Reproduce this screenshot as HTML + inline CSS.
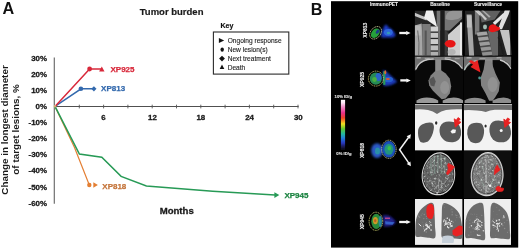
<!DOCTYPE html>
<html><head><meta charset="utf-8"><style>
html,body{margin:0;padding:0;background:#fff;width:520px;height:249px;overflow:hidden}
svg{display:block;filter:blur(0.3px)}
text{font-family:"Liberation Sans",Arial,sans-serif}
.b{font-weight:bold}
</style></head><body>
<svg width="520" height="249" viewBox="0 0 520 249">
<defs>
  <filter id="bl1" x="-20%" y="-20%" width="140%" height="140%"><feGaussianBlur stdDeviation="0.6"/></filter>
  <filter id="bl2" x="-30%" y="-30%" width="160%" height="160%"><feGaussianBlur stdDeviation="1"/></filter>
  <linearGradient id="cbar" x1="0" y1="0" x2="0" y2="1">
    <stop offset="0" stop-color="#ffffff"/>
    <stop offset="0.06" stop-color="#fbe6f4"/>
    <stop offset="0.14" stop-color="#f090c8"/>
    <stop offset="0.26" stop-color="#e8308a"/>
    <stop offset="0.36" stop-color="#f04028"/>
    <stop offset="0.42" stop-color="#f89020"/>
    <stop offset="0.48" stop-color="#f0e020"/>
    <stop offset="0.58" stop-color="#60c830"/>
    <stop offset="0.68" stop-color="#20b8a0"/>
    <stop offset="0.76" stop-color="#2080d8"/>
    <stop offset="0.86" stop-color="#2838c0"/>
    <stop offset="0.94" stop-color="#181848"/>
    <stop offset="1" stop-color="#080810"/>
  </linearGradient>
</defs>

<!-- ============ PANEL A ============ -->
<text x="2.6" y="14.3" font-size="16.2" class="b" fill="#111">A</text>
<text x="171.6" y="15.1" font-size="9.5" class="b" fill="#1a1a1a" stroke="#1a1a1a" stroke-width="0.2" text-anchor="middle">Tumor burden</text>
<text x="220.4" y="28" font-size="7.1" class="b" fill="#111" stroke="#111" stroke-width="0.15">Key</text>
<rect x="213.4" y="32" width="75.4" height="42.1" fill="none" stroke="#2a2a2a" stroke-width="1.1"/>
<!-- legend symbols -->
<polygon points="218.9,37.9 224.2,40.4 218.9,42.9" fill="#111"/>
<ellipse cx="222.2" cy="49.6" rx="1.7" ry="2.2" fill="#111"/>
<polygon points="219.1,58.6 222,55.7 224.9,58.6 222,61.5" fill="#111"/>
<polygon points="222,64.5 224.3,69.1 219.7,69.1" fill="#111"/>
<g font-size="6.6" fill="#1e1e1e" stroke="#1e1e1e" stroke-width="0.12">
  <text x="227.7" y="42.9">Ongoing response</text>
  <text x="227.7" y="52.3">New lesion(s)</text>
  <text x="227.7" y="61.1">Next treatment</text>
  <text x="227.7" y="70.1">Death</text>
</g>

<!-- y axis title -->
<g class="b" font-size="9.9" fill="#1a1a1a" text-anchor="middle">
  <text transform="translate(8.2,130) rotate(-90)">Change in longest diameter</text>
  <text transform="translate(18.8,129.4) rotate(-90)">of target lesions, %</text>
</g>
<!-- y tick labels -->
<g class="b" font-size="7.9" fill="#1a1a1a" stroke="#1a1a1a" stroke-width="0.3" text-anchor="end">
  <text x="47" y="60.7">30%</text>
  <text x="47" y="76.8">20%</text>
  <text x="47" y="92.9">10%</text>
  <text x="47" y="109">0%</text>
  <text x="47" y="125.1">-10%</text>
  <text x="47" y="141.2">-20%</text>
  <text x="47" y="157.3">-30%</text>
  <text x="47" y="173.4">-40%</text>
  <text x="47" y="189.5">-50%</text>
  <text x="47" y="205.6">-60%</text>
</g>
<!-- axes -->
<line x1="54.3" y1="57.6" x2="54.3" y2="203.8" stroke="#6a6a6a" stroke-width="1.15"/>
<line x1="54.3" y1="106.5" x2="298.6" y2="106.5" stroke="#505050" stroke-width="1.1"/>
<g stroke="#555" stroke-width="0.9">
  <line x1="79.3" y1="104.7" x2="79.3" y2="108.4"/>
  <line x1="103.6" y1="104.7" x2="103.6" y2="108.4"/>
  <line x1="127.9" y1="104.7" x2="127.9" y2="108.4"/>
  <line x1="152.2" y1="104.7" x2="152.2" y2="108.4"/>
  <line x1="176.5" y1="104.7" x2="176.5" y2="108.4"/>
  <line x1="200.8" y1="104.7" x2="200.8" y2="108.4"/>
  <line x1="225.1" y1="104.7" x2="225.1" y2="108.4"/>
  <line x1="249.4" y1="104.7" x2="249.4" y2="108.4"/>
  <line x1="273.7" y1="104.7" x2="273.7" y2="108.4"/>
  <line x1="298" y1="104.7" x2="298" y2="108.4"/>
</g>
<g class="b" font-size="7.9" fill="#1a1a1a" stroke="#1a1a1a" stroke-width="0.3" text-anchor="middle">
  <text x="103.4" y="120">6</text>
  <text x="152.4" y="120">12</text>
  <text x="200.8" y="120">18</text>
  <text x="249.6" y="120">24</text>
  <text x="298.3" y="120">30</text>
</g>
<text x="176.7" y="213.7" font-size="9.6" class="b" fill="#1a1a1a" stroke="#1a1a1a" stroke-width="0.3" text-anchor="middle">Months</text>

<!-- data lines -->
<polyline points="55,106.4 74.5,147.5 89.3,185" fill="none" stroke="#e47f33" stroke-width="1.2"/>
<circle cx="89.3" cy="185" r="2.2" fill="#e47f33"/>
<polygon points="93.3,182.3 97.9,185 93.3,187.7" fill="#e47f33"/>
<polyline points="55,106.4 79.4,154 101.8,157.3 121.1,176.4 146.4,185.9 212.7,191.2 275,195" fill="none" stroke="#279a56" stroke-width="1.5"/>
<polygon points="274.4,192.2 279.3,195.1 274.4,198" fill="#279a56"/>
<polyline points="55,106.4 81.1,88.8 93.9,88.8" fill="none" stroke="#3369ad" stroke-width="1.4"/>
<circle cx="80.9" cy="88.8" r="2.3" fill="#3369ad"/>
<polygon points="91.3,88.8 93.9,86.2 96.5,88.8 93.9,91.4" fill="#3369ad"/>
<polyline points="55,106.4 89.6,69 101.8,69" fill="none" stroke="#d8283a" stroke-width="1.5"/>
<circle cx="89.6" cy="69" r="2.4" fill="#d8283a"/>
<polygon points="101.8,66.4 104.5,71.4 99.1,71.4" fill="#d8283a"/>
<circle cx="55" cy="106.3" r="1.3" fill="#f4d080" opacity="0.7"/>
<g class="b" font-size="8.0" stroke-width="0.25">
  <text x="110.5" y="72.1" fill="#d8283a" stroke="#d8283a">XP925</text>
  <text x="101.1" y="91.4" fill="#3369ad" stroke="#3369ad">XP813</text>
  <text x="102.3" y="189.1" fill="#c4743a" stroke="#c4743a">XP818</text>
  <text x="284.4" y="197.7" fill="#1d8442" stroke="#1d8442">XP945</text>
</g>

<!-- ============ PANEL B ============ -->
<text x="310.8" y="14.8" font-size="16.2" class="b" fill="#111">B</text>
<rect x="331" y="1.2" width="187.2" height="246.4" fill="#000"/>

<g class="b" font-size="4.8" fill="#f2f2f2" stroke="#f2f2f2" stroke-width="0.1" text-anchor="middle">
  <text x="384" y="6.4">ImmunoPET</text>
  <text x="440" y="6.4">Baseline</text>
  <text x="488.1" y="6.4">Surveillance</text>
</g>

<!-- rotated row labels -->
<g class="b" font-size="5" fill="#f0f0f0" stroke="#f0f0f0" stroke-width="0.12" text-anchor="middle">
  <text transform="translate(366.8,30.2) rotate(-90)">XP813</text>
  <text transform="translate(363.8,79.4) rotate(-90)">XP925</text>
  <text transform="translate(363.8,150.5) rotate(-90)">XP818</text>
  <text transform="translate(363.8,221.7) rotate(-90)">XP945</text>
</g>

<!-- colour bar -->
<text x="343.3" y="98.3" font-size="4.2" class="b" fill="#e8e8e8" stroke="#e8e8e8" stroke-width="0.08" text-anchor="middle">10% ID/g</text>
<rect x="340.9" y="99.8" width="4.2" height="50.2" fill="url(#cbar)" filter="url(#sf2)"/>
<text x="343.9" y="155.1" font-size="4.2" class="b" fill="#e8e8e8" stroke="#e8e8e8" stroke-width="0.08" text-anchor="middle">0% ID/g</text>

<!-- PET blobs -->
<!-- PET 1 (XP813) -->
<g filter="url(#bl2)">
  <path d="M381.5,37.5 Q380.5,31 383.5,28.5 Q384,25 386,24.8 Q388,25 388.3,27.5 Q393,28.5 395.6,35 Q395,37.6 390,37.6 Z" fill="#1e3ac4"/>
</g>
<g filter="url(#bl1)">
  <ellipse cx="388.3" cy="32.3" rx="4.4" ry="3.4" fill="#2f68dc"/>
  <ellipse cx="388.5" cy="33" rx="1.8" ry="1.3" fill="#3698b8"/>
  <ellipse cx="375.4" cy="33.2" rx="5.4" ry="3.7" transform="rotate(-50 375.4 33.2)" fill="#26a03a"/>
  <ellipse cx="377.6" cy="31.6" rx="2.4" ry="1.5" transform="rotate(-50 377.6 31.6)" fill="#1a3a88"/>
</g>
<ellipse cx="375.6" cy="32.8" rx="7" ry="5" fill="none" stroke="#eef0b0" stroke-width="0.8" stroke-dasharray="1.1 0.7" transform="rotate(-50 375.6 32.8)"/>

<!-- PET 2 (XP925) -->
<g filter="url(#bl2)">
  <path d="M382.7,70.3 Q386,70 388,73 L397.3,81.7 Q392,86 383.7,85.9 Z" fill="#1a3ab8"/>
</g>
<g filter="url(#bl1)">
  <ellipse cx="388.5" cy="79.5" rx="4.5" ry="2.8" fill="#2860d0"/>
  <rect x="383.2" y="71.3" width="2.2" height="13.5" fill="#2a9a58"/>
  <ellipse cx="385.3" cy="72.3" rx="1" ry="2" fill="#d86a30"/>
  <ellipse cx="387.9" cy="79.1" rx="2" ry="1" fill="#d85530"/>
  <circle cx="375.9" cy="78.6" r="6.1" fill="#268a55"/>
  <ellipse cx="378.5" cy="77" rx="3" ry="4" fill="#2a64c8"/>
  <circle cx="374.5" cy="79.5" r="2.4" fill="#48b040"/>
</g>
<circle cx="375.9" cy="78.6" r="7.5" fill="none" stroke="#e2e07a" stroke-width="0.8" stroke-dasharray="1.1 0.7"/>

<!-- PET 3 (XP818) -->
<g filter="url(#bl2)">
  <ellipse cx="377" cy="150.6" rx="5.8" ry="7.4" fill="#2a58c4"/>
</g>
<g filter="url(#bl1)">
  <ellipse cx="377.5" cy="151" rx="2.5" ry="3.5" fill="#2a90a8"/>
  <ellipse cx="388.9" cy="149.3" rx="6.6" ry="8.3" fill="#1c50b8"/>
  <ellipse cx="388.9" cy="149.3" rx="4.5" ry="5.5" fill="#209480"/>
  <ellipse cx="389.3" cy="148.3" rx="1.8" ry="2.2" fill="#38c048"/>
</g>
<ellipse cx="388.9" cy="149.3" rx="7.3" ry="9.1" fill="none" stroke="#e6e6a8" stroke-width="0.8" stroke-dasharray="1.1 0.7"/>

<!-- PET 4 (XP945) -->
<g filter="url(#bl2)">
  <path d="M382.7,215.5 Q390,213.5 396,222 Q394,226.8 384,226.8 Z" fill="#22208a"/>
</g>
<g filter="url(#bl1)">
  <rect x="385" y="217.6" width="5" height="1.3" fill="#c04888"/>
  <path d="M385,221.2 L394.5,222.3 L392.5,224.8 L385.5,224.3 Z" fill="#3560c8"/>
  <ellipse cx="376.3" cy="221.3" rx="5" ry="7.6" fill="#2a8a3a"/>
  <ellipse cx="380.3" cy="221.5" rx="1.6" ry="5.5" fill="#2a8a9a"/>
  <ellipse cx="375.4" cy="220.6" rx="2.5" ry="3.6" fill="#c89a28"/>
  <ellipse cx="375.2" cy="220.6" rx="1.1" ry="1.7" fill="#c05a20"/>
</g>
<ellipse cx="375.9" cy="221.3" rx="6.8" ry="9.1" fill="none" stroke="#e6e87a" stroke-width="0.8" stroke-dasharray="1.1 0.7"/>

<!-- white arrows -->
<g stroke="#f4f4f4" fill="#f4f4f4" filter="url(#sf2)">
<line x1="399.3" y1="33.0" x2="406.7" y2="33.0" stroke-width="2.3"/><polygon points="410.6,33.0 406.2,35.0 406.2,31.0" stroke="none"/>
<line x1="400.3" y1="80.4" x2="406.9" y2="80.4" stroke-width="2.3"/><polygon points="410.8,80.4 406.4,82.4 406.4,78.4" stroke="none"/>
<line x1="399.2" y1="222.0" x2="406.9" y2="222.0" stroke-width="2.3"/><polygon points="410.8,222.0 406.4,224.0 406.4,220.0" stroke="none"/>
<line x1="399.6" y1="149.7" x2="408.7" y2="137.2" stroke-width="1.5"/><polygon points="410.9,134.2 410.2,138.9 406.6,136.3" stroke="none"/>
<line x1="399.6" y1="149.7" x2="408.8" y2="163.2" stroke-width="1.5"/><polygon points="410.9,166.3 406.7,164.1 410.4,161.6" stroke="none"/>
<circle cx="399.5" cy="149.7" r="0.75" stroke="none"/>
</g>

<!-- ===== medical images ===== -->
<defs>
  <clipPath id="c11"><rect x="0" y="0" width="48.5" height="45.3"/></clipPath>
  <clipPath id="c12"><rect x="0" y="0" width="46.6" height="45.3"/></clipPath>
  <clipPath id="c21"><rect x="0" y="0" width="48.6" height="46.5"/></clipPath>
  <clipPath id="c22"><rect x="0" y="0" width="47.7" height="46.5"/></clipPath>
  <clipPath id="c31"><rect x="0" y="0" width="47" height="46.7"/></clipPath>
  <clipPath id="c32"><rect x="0" y="0" width="48.3" height="46.7"/></clipPath>
  <clipPath id="c51"><rect x="0" y="0" width="47.7" height="45.9"/></clipPath>
  <clipPath id="c52"><rect x="0" y="0" width="47.1" height="45.9"/></clipPath>
  <filter id="sf" x="-10%" y="-10%" width="120%" height="120%"><feGaussianBlur stdDeviation="0.7"/></filter>
  <filter id="nzD" x="0" y="0" width="100%" height="100%"><feTurbulence type="fractalNoise" baseFrequency="0.42" numOctaves="2" seed="3"/><feColorMatrix type="matrix" values="0 0 0 0 0.15  0 0 0 0 0.15  0 0 0 0 0.15  3 0 0 0 -1.3"/><feGaussianBlur stdDeviation="0.35"/></filter>
  <filter id="nzL" x="0" y="0" width="100%" height="100%"><feTurbulence type="fractalNoise" baseFrequency="0.45" numOctaves="2" seed="11"/><feColorMatrix type="matrix" values="0 0 0 0 0.66  0 0 0 0 0.7  0 0 0 0 0.68  0 2.6 0 0 -1.35"/><feGaussianBlur stdDeviation="0.35"/></filter>
  <filter id="sf2" x="-10%" y="-10%" width="120%" height="120%"><feGaussianBlur stdDeviation="0.45"/></filter>
</defs>

<!-- Row 1 left: sagittal neck MRI (baseline) -->
<g transform="translate(414.7,10.5)" clip-path="url(#c11)">
  <rect width="48.5" height="45.3" fill="#262626"/>
  <g filter="url(#sf)">
    <rect x="22" y="0" width="26.5" height="20" fill="#747474"/>
    <path d="M31,8.5 Q30.5,1 38,0 L47.3,0 L47.3,6 Q44,9 38,9.5 Q33,9.8 31,8.5 Z" fill="#959595"/>
    <polygon points="0,2.2 11.5,7 11.8,10 0,5.4" fill="#c4c4c4"/>
    <polygon points="11.8,-1 18,-1 22.4,16.5 9.3,7.5" fill="#efefef"/>
    <polygon points="0,15 7,13 8.5,45.3 0,45.3" fill="#a6a6a6"/>
    <rect x="0.5" y="15" width="5.5" height="10" fill="#b8b8b8"/>
    <path d="M3,20 Q5,32 4,45" stroke="#6a6a6a" stroke-width="1" fill="none"/>
    <rect x="7.5" y="13.5" width="8.4" height="31.8" fill="#7a7a7a"/>
    <rect x="10" y="20" width="2" height="25" fill="#555"/>
    <rect x="15.9" y="16" width="7.6" height="5" fill="#d2d2d2"/>
    <rect x="15.9" y="22.3" width="7.6" height="5" fill="#c6c6c6"/>
    <rect x="15.9" y="28.6" width="7.6" height="5" fill="#cdcdcd"/>
    <rect x="15.9" y="34.9" width="7.6" height="5" fill="#bebebe"/>
    <rect x="15.9" y="41.2" width="7.6" height="4.1" fill="#b0b0b0"/>
    <rect x="23.5" y="14" width="2.1" height="31.3" fill="#707070"/>
    <rect x="25.6" y="0" width="4.4" height="45.3" fill="#1c1c1c"/>
    <polygon points="30,19.5 33.5,22 33.3,45.3 30,45.3" fill="#3a3a3a"/>
    <polygon points="48.3,10.5 34.3,23 33.3,24.5 33.3,45.3 48.3,45.3" fill="#cecece"/>
    <polygon points="48.5,8.3 47.5,8.3 32.8,22 34.3,23.2 48.5,10.6" fill="#1a1a1a"/>
    <rect x="45.3" y="12" width="1.8" height="33" fill="#ececec"/>
    <ellipse cx="37" cy="41.5" rx="4" ry="3" fill="#b4b4b4"/>
    <path d="M29.8,33.3 Q31,29.3 35.5,29.5 Q40.5,29.8 41,33.3 Q40.5,36.8 35.5,37 Q31,37 29.8,33.3 Z" fill="#e81818"/>
  </g>
  <rect x="47.4" y="0" width="1.1" height="45.3" fill="#111"/>
</g>

<!-- Row 1 right: sagittal neck MRI (surveillance) -->
<g transform="translate(464.6,10.5)" clip-path="url(#c12)">
  <rect width="46.6" height="45.3" fill="#232323"/>
  <g filter="url(#sf)">
    <polygon points="1.9,3.9 7,3.9 9.5,45.3 4.5,45.3" fill="#a6a6a6"/>
    <rect x="2.3" y="5" width="4.6" height="12" fill="#bebebe"/>
    <rect x="10.3" y="0" width="4.5" height="24" fill="#7a7a7a"/>
    <polygon points="9,-1 11,-1 17.5,5 16,6" fill="#cfcfcf"/>
    <polygon points="14.8,0 36,0 30,9 17,12" fill="#606060"/>
    <polygon points="11,-1 13.5,-1 22.5,8.5 20.5,9.8" fill="#c8c8c8"/>
    <polygon points="16,-1 18,-1 26,6 24.5,7.2" fill="#a8a8a8"/>
    <polygon points="11.8,21 22.8,21 30.4,45.3 17.8,45.3" fill="#4a4a4a"/>
    <polygon points="12,22 22,21 23,24.2 13,25.5" fill="#a4a4a4"/>
    <polygon points="13.3,27 23.3,26 24.3,29.2 14.3,30.5" fill="#a0a0a0"/>
    <polygon points="14.6,32 24.6,31 25.6,34.2 15.6,35.5" fill="#9c9c9c"/>
    <polygon points="15.9,37 25.9,36 26.9,39.2 16.9,40.5" fill="#969696"/>
    <polygon points="17.2,42 27.2,41 28.2,44.2 18.2,45.5" fill="#909090"/>
    <polygon points="23,20 33.4,21 33.4,45.3 28,45.3" fill="#666"/>
    <ellipse cx="20.4" cy="16.5" rx="2" ry="2.4" fill="#a4bcb4"/>
    <polygon points="28.2,12.2 38.8,2.4 41,4.4 30.4,14.4" fill="#e6e6e6"/>
    <polygon points="40.4,-1 45.6,-1 44,4 37.4,18.8 33.4,18.8" fill="#e0e0e0"/>
    <polygon points="44.5,3 46.6,3 46.6,22 43,20" fill="#222"/>
    <polygon points="35.4,19.5 44.4,19.5 47.4,44.5 42.4,44.5" fill="#c4c4c4"/>
    <polygon points="33,27 34.6,26 40,45.3 38.3,45.3" fill="#1e1e1e"/>
    <path d="M23.9,18 Q24.4,14 28.4,13.7 Q31.4,14 32.4,16 L35.4,17 Q35.6,20 32.4,20.5 Q29.4,22 26.4,21.5 Q23.7,20.5 23.9,18 Z" fill="#e81818"/>
  </g>
  <rect x="45.8" y="0" width="0.8" height="45.3" fill="#0a0a0a"/>
</g>

<!-- Row 2 left: coronal chest (baseline) -->
<g transform="translate(414.7,56.5)" clip-path="url(#c21)">
  <rect width="48.6" height="46.5" fill="#090909"/>
  <g filter="url(#sf)">
    <rect x="0" y="0" width="48.6" height="3.6" fill="#7a7a7a"/>
    <path d="M0,0 L20,0 L20,2.6 L13,3.4 Q4,5.5 1,13.5 L0,14.5 Z" fill="#707070"/>
    <path d="M48.6,0 L29,0 L29,2.6 Q42,3.4 47.6,12.5 L48.6,13 Z" fill="#707070"/>
    <rect x="2" y="0.6" width="4" height="1.4" fill="#b0b0b0"/>
    <rect x="10" y="1.4" width="5" height="1.2" fill="#a0a0a0"/>
    <rect x="30" y="0.6" width="6" height="1.3" fill="#aaaaaa"/>
    <rect x="40" y="1.4" width="5" height="1.3" fill="#9e9e9e"/>
    <path d="M1,13 Q4,5 13,3 L19,2.3" fill="none" stroke="#c8c8c8" stroke-width="1.3"/>
    <path d="M30,2.3 Q42,3 47.5,12" fill="none" stroke="#c8c8c8" stroke-width="1.3"/>
    <rect x="20.5" y="3" width="6" height="14" fill="#8c8c8c"/>
    <path d="M20,15 L26,13.5 L31,17 L35,22 L36.5,30 L35,37 L31,42 L27,42.8 L23,39 L18,34 L14.5,29 L13.8,24 L16,19 Z" fill="#828282"/>
    <path d="M14.5,23 L19,20 L21,25 L19.5,30 L16,29 Z" fill="#555"/>
    <ellipse cx="30" cy="31" rx="4.5" ry="6.5" fill="#929292"/>
    <path d="M1.8,46.5 L1.8,44 Q6,41 12,41 Q19,41.2 23.5,44 L23.5,46.5 Z" fill="#999"/>
    <path d="M28,46.5 L28,44 Q33,41 39,41 Q45,41.2 48.5,44 L48.5,46.5 Z" fill="#999"/>
  </g>
</g>

<!-- Row 2 right: coronal chest (surveillance) -->
<g transform="translate(463.6,56.5)" clip-path="url(#c22)">
  <rect width="47.7" height="46.5" fill="#090909"/>
  <g filter="url(#sf)">
    <rect x="0" y="0" width="47.7" height="3.6" fill="#7a7a7a"/>
    <path d="M0,0 L16,0 L15,4 Q6,6 1.5,13.5 L0,14.5 Z" fill="#707070"/>
    <path d="M47.7,0 L35,0 L35,2.6 Q44,4 47.7,11 Z" fill="#707070"/>
    <rect x="3" y="0.6" width="5" height="1.4" fill="#b0b0b0"/>
    <rect x="16" y="1.4" width="6" height="1.2" fill="#a0a0a0"/>
    <rect x="33" y="0.6" width="5" height="1.3" fill="#aaaaaa"/>
    <path d="M0.7,13.5 Q3.5,7 8,5.5 Q11,4.5 14,4.2" fill="none" stroke="#b8c8c4" stroke-width="1.3"/>
    <path d="M36.4,3.5 Q44,5.5 47.6,12.5" fill="none" stroke="#c8c8c8" stroke-width="1.3"/>
    <rect x="21.4" y="2" width="7.6" height="11" fill="#8c8c8c"/>
    <path d="M21.4,4 L27.5,4 L29,9 L32,17.3 L36.3,26 L35.2,34.7 L31.5,41 L29,44.3 L25.5,44.3 L22,37 L17.5,29 L17,21.5 L20,13 Z" fill="#828282"/>
    <ellipse cx="29" cy="28" rx="5" ry="7.5" fill="#929292"/>
    <circle cx="16" cy="21.5" r="1.4" fill="#4a9a94"/>
    <path d="M1,46.5 L1,44 Q5,41.2 11,41.2 Q18,41.4 22,44 L22,46.5 Z" fill="#8e8e8e"/>
    <path d="M29,46.5 L29,44 Q34,41 40,41 Q45,41.2 47.7,43.5 L47.7,46.5 Z" fill="#8e8e8e"/>
  </g>
  <polygon points="16.9,16 6.9,10.5 9.4,8 5.2,5.2 7.2,3.4 11.4,5.5 13.9,3.2" fill="#e82020" filter="url(#sf2)"/>
</g>

<!-- Row 3 left: axial CT (baseline) -->
<g transform="translate(415,104)" clip-path="url(#c31)">
  <rect width="47" height="46.7" fill="#f3f3f3"/>
  <g filter="url(#sf2)">
    <rect x="0" y="-1" width="47" height="2" fill="#d0d0d0"/>
    <path d="M0,0.8 L47,0.8 L47,5.3 Q38,4.8 31,6 Q26,7 22,10 Q18,7 13,6 Q6,4.8 0,5.6 Z" fill="#6e6e6e"/>
    <path d="M3,29 Q2.5,23 7,20.5 Q12,18 17,18.8 Q19.5,20.5 18.8,25 Q17.5,33 13,37.5 Q9,39.5 5.5,38 Q3.2,35 3,29 Z" fill="#585858"/>
    <path d="M24.5,26 Q25,19 31,17.8 Q39,16.8 44,21 Q46.5,25 46,31 Q44.5,37.5 38,38.3 Q31,38.8 27.5,34.5 Q24.3,31 24.5,26 Z" fill="#585858"/>
    <ellipse cx="21.2" cy="19" rx="2.2" ry="2.8" fill="#fafafa"/>
    <ellipse cx="21.2" cy="19" rx="1.2" ry="1.8" fill="#2c2c2c"/>
    <path d="M35.5,27.5 L37.8,25.3 L41,25.8 L40.3,29 L37,29.6 Z" fill="#f6f6f6"/>
  </g>
  <polygon points="40.2,23.2 39.2,14.8 41.3,16.2 43.0,13.6 45.2,15.0 43.5,17.2 46.0,18.2" fill="#e82020" stroke="#e82020" stroke-width="0.8" stroke-linejoin="round" filter="url(#sf2)"/>
</g>

<!-- Row 3 right: axial CT (surveillance) -->
<g transform="translate(463.8,104)" clip-path="url(#c32)">
  <rect width="48.3" height="46.7" fill="#f3f3f3"/>
  <g filter="url(#sf2)">
    <rect x="0" y="-1" width="48.3" height="2" fill="#d0d0d0"/>
    <path d="M0,0.8 L48.3,0.8 L48.3,6 Q38,5.4 31,5.8 Q26,6.4 22,8 Q18,7 13,6.6 Q6,5.5 0,6.2 Z" fill="#6e6e6e"/>
    <path d="M3.4,30 Q3,22 7.5,19.8 Q12.5,17.8 17.5,19.5 Q20.8,22.5 20.2,29 Q19.3,36 15.5,38.6 Q10.5,40.2 6.8,37.8 Q3.8,35 3.4,30 Z" fill="#585858"/>
    <path d="M25.6,25 Q26,18.2 31.5,16.8 Q39,15.8 44,19.5 Q47.5,24 47.2,30 Q46.2,36.8 40,38.2 Q33,39 29.2,35.5 Q25.5,31.5 25.6,25 Z" fill="#585858"/>
    <ellipse cx="21.8" cy="22" rx="2" ry="2.4" fill="#fafafa"/>
    <ellipse cx="21.8" cy="22" rx="1.1" ry="1.5" fill="#2c2c2c"/>
    <circle cx="37.4" cy="26.4" r="1.5" fill="#f6f6f6"/>
  </g>
  <polygon points="41.0,23.5 40.0,15.1 42.1,16.5 43.8,13.9 46.0,15.3 44.3,17.5 46.8,18.5" fill="#e82020" stroke="#e82020" stroke-width="0.8" stroke-linejoin="round" filter="url(#sf2)"/>
</g>

<!-- Row 4: brain MRI -->
<defs>
  <path id="eggL" d="M16.6,1.7 C16.5,4.5 15.9,7.4 14.9,9.9 C13.9,12.3 12.4,14.7 10.7,16.5 C9.0,18.3 6.8,19.7 4.7,20.6 C2.5,21.4 -0.0,21.7 -2.3,21.5 C-4.5,21.2 -6.9,20.4 -8.9,19.1 C-10.8,17.9 -12.6,16.0 -13.9,13.9 C-15.2,11.8 -16.2,9.2 -16.6,6.6 C-17.1,4.0 -17.0,1.0 -16.6,-1.7 C-16.2,-4.5 -15.2,-7.4 -14.1,-9.8 C-12.9,-12.2 -11.3,-14.6 -9.6,-16.4 C-7.9,-18.1 -5.8,-19.6 -3.9,-20.5 C-1.9,-21.3 0.3,-21.7 2.3,-21.5 C4.2,-21.3 6.3,-20.5 8.0,-19.2 C9.8,-18.0 11.5,-16.1 12.8,-14.0 C14.1,-11.9 15.2,-9.3 15.8,-6.7 C16.4,-4.0 16.8,-1.0 16.6,1.7 Z"/>
  <path id="eggR" d="M16.4,1.1 C16.3,4.0 15.8,7.0 14.9,9.6 C14.0,12.1 12.7,14.6 11.0,16.5 C9.4,18.4 7.3,20.0 5.2,20.9 C3.1,21.9 0.7,22.3 -1.5,22.1 C-3.8,22.0 -6.1,21.2 -8.1,20.0 C-10.0,18.8 -11.9,16.9 -13.2,14.8 C-14.6,12.7 -15.6,10.0 -16.1,7.4 C-16.6,4.7 -16.7,1.7 -16.4,-1.1 C-16.0,-4.0 -15.2,-7.0 -14.1,-9.5 C-13.0,-12.1 -11.5,-14.5 -9.9,-16.4 C-8.3,-18.3 -6.3,-19.9 -4.4,-20.9 C-2.5,-21.8 -0.4,-22.3 1.5,-22.1 C3.5,-22.0 5.5,-21.3 7.3,-20.1 C9.0,-18.8 10.8,-17.0 12.1,-14.9 C13.4,-12.8 14.6,-10.1 15.3,-7.4 C16.0,-4.8 16.4,-1.7 16.4,1.1 Z"/>
  <clipPath id="eggLc"><use href="#eggL" transform="scale(0.9)"/></clipPath>
  <clipPath id="eggRc"><use href="#eggR" transform="scale(0.88)"/></clipPath>
</defs>
<g>
  <rect x="414.7" y="150.7" width="47.6" height="47.4" fill="#020202"/>
  <rect x="463.8" y="150.7" width="47.6" height="47.4" fill="#0e0e0e"/>
  <g transform="translate(438.6,173.8)" filter="url(#sf2)">
    <use href="#eggL" fill="#d8d8d8"/>
    <use href="#eggL" transform="scale(0.94)" fill="#1c1c1c"/>
    <use href="#eggL" transform="scale(0.9)" fill="#5e5e5e"/>
    <g clip-path="url(#eggLc)">
      <path d="M-8,-16 L-7,2 M-4.5,-19 L-4,0 M-1,-20 L-0.5,-2 M2.5,-19 L3,0 M6,-17 L6,0" stroke="#7e948a" stroke-width="1.5" opacity="0.9" fill="none"/>
      <path d="M-12,4 L-4,12 M-10,10 L-3,18 M12,4 L5,12 M10,10 L3,18 M-13,-4 L-9,2 M13,-4 L9,2" stroke="#444" stroke-width="0.9" fill="none" opacity="0.8"/>
      <path d="M-9,6 L-2,15 M8,6 L1,15 M0,4 L0,19" stroke="#989898" stroke-width="1" fill="none"/>
      <rect x="-18" y="-23" width="36" height="46" fill="#000" filter="url(#nzD)"/>
      <rect x="-18" y="-23" width="36" height="46" fill="#fff" filter="url(#nzL)"/>
    </g>
    <circle cx="-1.5" cy="19" r="0.9" fill="#e0e0e0"/>
  </g>
  <g transform="translate(487.2,174.1)" filter="url(#sf2)">
    <use href="#eggR" fill="#d4d4d4"/>
    <use href="#eggR" transform="scale(0.94)" fill="#8a8a8a"/>
    <use href="#eggR" transform="scale(0.9)" fill="#2a2a2a"/>
    <use href="#eggR" transform="scale(0.87)" fill="#7c7c7c"/>
    <g clip-path="url(#eggRc)">
      <path d="M-1.5,-22 L-1,22" stroke="#a4a4a4" stroke-width="1.8" fill="none"/>
      <path d="M-10,-10 L-5,-2 M-11,0 L-5,8 M-9,10 L-4,16 M8,-10 L4,-2 M10,0 L5,8 M9,10 L4,16" stroke="#555" stroke-width="0.8" fill="none" opacity="0.8"/>
      <path d="M-6,-14 L-4,-4 M5,-14 L3,-4 M-7,4 L-3,12 M7,4 L3,12" stroke="#9aa8a0" stroke-width="1" fill="none"/>
      <rect x="-18" y="-23" width="36" height="46" fill="#000" filter="url(#nzD)" transform="translate(3,2)"/>
      <rect x="-18" y="-23" width="36" height="46" fill="#fff" filter="url(#nzL)" transform="translate(-2,1)"/>
    </g>
    <circle cx="2.9" cy="11.7" r="1.2" fill="#f4f4f4"/>
  </g>
  <polygon points="448.4,163.3 454.5,166.8 451.8,170.3 447.6,175 446.4,173.2 448.4,169 447.6,165.2" fill="#e82020" stroke="#e82020" stroke-width="0.6" stroke-linejoin="round" filter="url(#sf2)"/>
  <polygon points="497.2,164.9 500.2,169.9 496.5,172.8 494.3,174.8 494.6,170.5 495.8,167" fill="#e82020" stroke="#e82020" stroke-width="0.6" stroke-linejoin="round" filter="url(#sf2)"/>
  <path d="M495.7,188.5 Q496.5,186 499,186.2 L501,188 L503.5,188.2 Q504,191 501.5,191.6 L498.5,191.4 Q496,191.2 495.7,188.5 Z" fill="#e82020" stroke="#e82020" stroke-width="0.6" filter="url(#sf2)"/>
</g>

<!-- Row 5 left: coronal CT (baseline) -->
<defs>
  <clipPath id="lungLL"><path d="M15.9,3.7 C17.1,3.7 18.3,3.8 18.9,5.8 C19.5,7.9 19.5,12.5 19.7,16.0 C19.9,19.5 20.0,23.3 20.1,27.0 C20.2,30.7 21.5,36.4 20.3,38.4 C19.1,40.4 15.5,38.9 13.1,38.8 C10.7,38.7 8.2,38.1 6.1,37.8 C4.0,37.6 1.6,38.8 0.7,37.3 C-0.2,35.8 0.4,31.7 0.5,29.0 C0.6,26.3 0.6,23.4 1.1,21.0 C1.6,18.6 2.3,16.4 3.3,14.5 C4.3,12.6 5.5,10.9 6.9,9.5 C8.3,8.1 10.1,6.8 11.6,5.8 C13.1,4.8 14.7,3.7 15.9,3.7 Z"/></clipPath>
  <clipPath id="lungLR"><path d="M29.6,4.0 C30.7,3.8 32.4,4.8 34.1,5.6 C35.8,6.4 37.9,7.5 39.6,9.0 C41.3,10.5 43.2,12.2 44.3,14.5 C45.5,16.8 46.0,20.2 46.5,23.0 C47.0,25.8 47.2,28.3 47.3,31.0 C47.5,33.7 48.6,37.8 47.4,39.2 C46.2,40.6 42.5,39.7 40.1,39.6 C37.7,39.5 35.3,39.0 33.1,38.8 C30.9,38.6 28.2,40.1 27.1,38.5 C26.0,36.9 26.6,32.8 26.6,29.0 C26.6,25.2 26.8,19.7 26.9,16.0 C27.0,12.3 26.9,9.0 27.3,7.0 C27.8,5.0 28.5,4.2 29.6,4.0 Z"/></clipPath>
  <clipPath id="lungRL"><path d="M16.5,3.7 C17.7,3.8 18.6,3.4 19.2,5.5 C19.8,7.6 20.0,12.1 20.2,16.0 C20.4,19.9 20.5,24.9 20.6,29.0 C20.7,33.1 21.9,38.6 20.8,40.5 C19.7,42.4 16.3,40.4 14.0,40.2 C11.7,39.9 9.1,39.3 7.0,39.0 C4.9,38.7 2.6,40.2 1.6,38.5 C0.7,36.8 1.3,32.0 1.3,29.0 C1.3,26.0 1.4,23.1 1.8,20.5 C2.2,17.9 2.9,15.6 3.8,13.5 C4.8,11.4 6.1,9.6 7.5,8.2 C8.9,6.8 10.5,5.8 12.0,5.0 C13.5,4.2 15.3,3.6 16.5,3.7 Z"/></clipPath>
  <clipPath id="lungRR"><path d="M29.3,3.7 C30.4,3.4 32.0,4.2 33.5,5.0 C35.0,5.8 36.9,7.0 38.5,8.5 C40.1,10.0 41.9,11.7 43.0,14.0 C44.1,16.3 44.8,19.7 45.3,22.5 C45.8,25.3 45.7,28.2 45.8,31.0 C45.9,33.8 46.9,37.9 45.8,39.4 C44.7,40.9 41.3,39.9 39.0,39.8 C36.7,39.7 34.1,39.2 32.0,39.0 C29.9,38.8 27.5,40.2 26.5,38.5 C25.5,36.8 26.2,32.8 26.2,29.0 C26.2,25.2 26.3,19.7 26.4,16.0 C26.5,12.3 26.4,9.1 26.9,7.0 C27.4,4.9 28.2,4.0 29.3,3.7 Z"/></clipPath>
</defs>
<g transform="translate(414.9,199)" clip-path="url(#c51)">
  <rect width="47.7" height="45.9" fill="#ededed"/>
  <g filter="url(#sf2)">
    <path d="M15.9,3.7 C17.1,3.7 18.3,3.8 18.9,5.8 C19.5,7.9 19.5,12.5 19.7,16.0 C19.9,19.5 20.0,23.3 20.1,27.0 C20.2,30.7 21.5,36.4 20.3,38.4 C19.1,40.4 15.5,38.9 13.1,38.8 C10.7,38.7 8.2,38.1 6.1,37.8 C4.0,37.6 1.6,38.8 0.7,37.3 C-0.2,35.8 0.4,31.7 0.5,29.0 C0.6,26.3 0.6,23.4 1.1,21.0 C1.6,18.6 2.3,16.4 3.3,14.5 C4.3,12.6 5.5,10.9 6.9,9.5 C8.3,8.1 10.1,6.8 11.6,5.8 C13.1,4.8 14.7,3.7 15.9,3.7 Z" fill="#6a6a6a"/>
    <path d="M29.6,4.0 C30.7,3.8 32.4,4.8 34.1,5.6 C35.8,6.4 37.9,7.5 39.6,9.0 C41.3,10.5 43.2,12.2 44.3,14.5 C45.5,16.8 46.0,20.2 46.5,23.0 C47.0,25.8 47.2,28.3 47.3,31.0 C47.5,33.7 48.6,37.8 47.4,39.2 C46.2,40.6 42.5,39.7 40.1,39.6 C37.7,39.5 35.3,39.0 33.1,38.8 C30.9,38.6 28.2,40.1 27.1,38.5 C26.0,36.9 26.6,32.8 26.6,29.0 C26.6,25.2 26.8,19.7 26.9,16.0 C27.0,12.3 26.9,9.0 27.3,7.0 C27.8,5.0 28.5,4.2 29.6,4.0 Z" fill="#6a6a6a"/>
    <g clip-path="url(#lungLL)"><circle cx="8.5" cy="26.1" r="0.61" fill="#8a8a8a"/><circle cx="16.7" cy="26.4" r="0.50" fill="#8a8a8a"/><circle cx="16.7" cy="25.4" r="0.36" fill="#8a8a8a"/><circle cx="7.9" cy="23.2" r="0.39" fill="#8a8a8a"/><circle cx="0.0" cy="28.8" r="0.40" fill="#8a8a8a"/><circle cx="11.4" cy="33.1" r="0.73" fill="#8a8a8a"/><circle cx="4.7" cy="18.3" r="0.74" fill="#8a8a8a"/><circle cx="21.4" cy="26.6" r="0.47" fill="#8a8a8a"/><circle cx="11.9" cy="25.2" r="0.47" fill="#8a8a8a"/><circle cx="11.5" cy="17.4" r="0.58" fill="#8a8a8a"/><circle cx="6.3" cy="16.1" r="0.57" fill="#8a8a8a"/><circle cx="11.9" cy="23.1" r="0.43" fill="#8a8a8a"/><circle cx="7.3" cy="14.3" r="0.48" fill="#8a8a8a"/><circle cx="4.3" cy="17.5" r="0.47" fill="#8a8a8a"/><circle cx="12.6" cy="10.1" r="0.45" fill="#8a8a8a"/><circle cx="3.5" cy="17.6" r="0.70" fill="#8a8a8a"/><circle cx="9.4" cy="15.5" r="0.74" fill="#8a8a8a"/><circle cx="14.6" cy="27.6" r="0.65" fill="#8a8a8a"/><circle cx="14.0" cy="29.6" r="0.37" fill="#8a8a8a"/><circle cx="5.0" cy="10.2" r="0.58" fill="#8a8a8a"/><circle cx="13.7" cy="17.1" r="0.63" fill="#8a8a8a"/><circle cx="3.4" cy="16.1" r="0.53" fill="#8a8a8a"/><circle cx="17.7" cy="5.7" r="0.54" fill="#8a8a8a"/><circle cx="8.9" cy="19.6" r="0.63" fill="#8a8a8a"/><circle cx="-1.4" cy="1.9" r="0.68" fill="#8a8a8a"/><circle cx="8.7" cy="29.7" r="0.62" fill="#8a8a8a"/><circle cx="16.6" cy="23.3" r="0.42" fill="#8a8a8a"/><circle cx="11.6" cy="23.9" r="0.66" fill="#8a8a8a"/><circle cx="13.1" cy="26.4" r="0.51" fill="#8a8a8a"/><circle cx="11.7" cy="19.6" r="0.53" fill="#8a8a8a"/><g stroke="#f0f0f0" stroke-width="1.0" stroke-linecap="round" fill="none"><path d="M4.1,25.1 l1.9,1.8"/><path d="M10.4,30.1 l-0.8,1.9"/><path d="M12.9,26.5 l-1.9,-1.3"/><path d="M11.4,30.4 l0.5,-1.2"/><path d="M14.6,27.1 l-0.8,0.3"/><path d="M16.1,25.7 l0.1,0.6"/><path d="M10.5,26.1 l2.4,1.4"/><path d="M15.4,23.2 l-0.6,-0.5"/><path d="M15.0,29.6 l-2.6,-2.2"/></g><circle cx="12.5" cy="28.7" r="0.54" fill="#e8e8e8"/><circle cx="12.1" cy="27.0" r="0.46" fill="#e8e8e8"/><circle cx="14.3" cy="28.7" r="0.41" fill="#e8e8e8"/><circle cx="14.9" cy="24.1" r="0.46" fill="#e8e8e8"/><circle cx="12.0" cy="29.8" r="0.55" fill="#e8e8e8"/><circle cx="16.2" cy="31.1" r="0.80" fill="#e8e8e8"/><circle cx="8.6" cy="27.7" r="0.43" fill="#e8e8e8"/><circle cx="14.2" cy="28.6" r="0.51" fill="#e8e8e8"/><circle cx="12.8" cy="25.4" r="0.41" fill="#e8e8e8"/><circle cx="15.5" cy="25.9" r="0.46" fill="#e8e8e8"/></g>
    <g clip-path="url(#lungLR)"><circle cx="34.6" cy="19.5" r="0.56" fill="#8a8a8a"/><circle cx="47.9" cy="17.9" r="0.63" fill="#8a8a8a"/><circle cx="35.6" cy="27.6" r="0.42" fill="#8a8a8a"/><circle cx="37.0" cy="10.2" r="0.66" fill="#8a8a8a"/><circle cx="34.0" cy="25.0" r="0.67" fill="#8a8a8a"/><circle cx="47.7" cy="18.5" r="0.67" fill="#8a8a8a"/><circle cx="40.1" cy="8.1" r="0.44" fill="#8a8a8a"/><circle cx="30.4" cy="19.2" r="0.36" fill="#8a8a8a"/><circle cx="40.8" cy="21.1" r="0.45" fill="#8a8a8a"/><circle cx="30.7" cy="1.3" r="0.53" fill="#8a8a8a"/><circle cx="52.5" cy="10.8" r="0.73" fill="#8a8a8a"/><circle cx="33.2" cy="24.2" r="0.44" fill="#8a8a8a"/><circle cx="37.3" cy="25.1" r="0.60" fill="#8a8a8a"/><circle cx="45.3" cy="11.0" r="0.54" fill="#8a8a8a"/><circle cx="29.8" cy="8.2" r="0.38" fill="#8a8a8a"/><circle cx="29.0" cy="5.2" r="0.66" fill="#8a8a8a"/><circle cx="36.0" cy="10.9" r="0.42" fill="#8a8a8a"/><circle cx="37.3" cy="13.0" r="0.67" fill="#8a8a8a"/><circle cx="41.9" cy="18.6" r="0.51" fill="#8a8a8a"/><circle cx="45.1" cy="15.8" r="0.42" fill="#8a8a8a"/><circle cx="38.4" cy="23.3" r="0.71" fill="#8a8a8a"/><circle cx="37.2" cy="15.8" r="0.68" fill="#8a8a8a"/><circle cx="44.7" cy="18.6" r="0.49" fill="#8a8a8a"/><circle cx="33.0" cy="18.7" r="0.36" fill="#8a8a8a"/><circle cx="44.5" cy="17.9" r="0.56" fill="#8a8a8a"/><circle cx="41.9" cy="16.5" r="0.70" fill="#8a8a8a"/><circle cx="37.9" cy="15.1" r="0.45" fill="#8a8a8a"/><circle cx="34.8" cy="25.7" r="0.58" fill="#8a8a8a"/><circle cx="35.6" cy="28.3" r="0.40" fill="#8a8a8a"/><circle cx="40.7" cy="16.0" r="0.53" fill="#8a8a8a"/><g stroke="#f0f0f0" stroke-width="1.0" stroke-linecap="round" fill="none"><path d="M29.3,20.7 l-0.5,2.1"/><path d="M30.9,24.0 l0.1,-2.4"/><path d="M32.5,24.7 l-3.0,1.5"/><path d="M35.3,27.0 l1.4,0.3"/><path d="M32.6,27.2 l0.3,1.4"/><path d="M36.5,26.4 l-1.5,-1.1"/><path d="M34.4,20.5 l0.4,1.3"/><path d="M36.3,22.3 l0.7,0.0"/></g><circle cx="30.2" cy="24.6" r="0.58" fill="#e8e8e8"/><circle cx="31.2" cy="24.3" r="0.78" fill="#e8e8e8"/><circle cx="32.4" cy="19.2" r="0.78" fill="#e8e8e8"/><circle cx="33.8" cy="28.8" r="0.78" fill="#e8e8e8"/><circle cx="34.7" cy="23.6" r="0.45" fill="#e8e8e8"/><circle cx="33.1" cy="25.4" r="0.50" fill="#e8e8e8"/><circle cx="37.3" cy="27.0" r="0.71" fill="#e8e8e8"/><circle cx="35.2" cy="24.0" r="0.69" fill="#e8e8e8"/><circle cx="33.3" cy="23.6" r="0.75" fill="#e8e8e8"/><circle cx="35.7" cy="24.6" r="0.78" fill="#e8e8e8"/></g>
    <path d="M27.5,37.5 Q33,35.5 38,37.5 Q40,40 38.5,44 L27,44 Z" fill="#c6d0da"/>
  </g>
  <path d="M11.6,9 Q13,4.5 16.5,4.8 Q19.5,6.5 19.2,12 Q19,17.5 17,20 Q13.5,20.5 12,17.5 Q11,13.5 11.6,9 Z" fill="#e82020" filter="url(#sf2)"/>
  <path d="M37.5,31.5 L44,26.5 L48.5,27.5 L48.5,35 L41.5,37.5 L37.8,35.8 Z" fill="#e82020" filter="url(#sf2)"/>
</g>

<!-- Row 5 right: coronal CT (surveillance) -->
<g transform="translate(464,199)" clip-path="url(#c52)">
  <rect width="47.1" height="45.9" fill="#eeeeee"/>
  <g filter="url(#sf2)">
    <path d="M16.5,3.7 C17.7,3.8 18.6,3.4 19.2,5.5 C19.8,7.6 20.0,12.1 20.2,16.0 C20.4,19.9 20.5,24.9 20.6,29.0 C20.7,33.1 21.9,38.6 20.8,40.5 C19.7,42.4 16.3,40.4 14.0,40.2 C11.7,39.9 9.1,39.3 7.0,39.0 C4.9,38.7 2.6,40.2 1.6,38.5 C0.7,36.8 1.3,32.0 1.3,29.0 C1.3,26.0 1.4,23.1 1.8,20.5 C2.2,17.9 2.9,15.6 3.8,13.5 C4.8,11.4 6.1,9.6 7.5,8.2 C8.9,6.8 10.5,5.8 12.0,5.0 C13.5,4.2 15.3,3.6 16.5,3.7 Z" fill="#6c6c6c"/>
    <path d="M29.3,3.7 C30.4,3.4 32.0,4.2 33.5,5.0 C35.0,5.8 36.9,7.0 38.5,8.5 C40.1,10.0 41.9,11.7 43.0,14.0 C44.1,16.3 44.8,19.7 45.3,22.5 C45.8,25.3 45.7,28.2 45.8,31.0 C45.9,33.8 46.9,37.9 45.8,39.4 C44.7,40.9 41.3,39.9 39.0,39.8 C36.7,39.7 34.1,39.2 32.0,39.0 C29.9,38.8 27.5,40.2 26.5,38.5 C25.5,36.8 26.2,32.8 26.2,29.0 C26.2,25.2 26.3,19.7 26.4,16.0 C26.5,12.3 26.4,9.1 26.9,7.0 C27.4,4.9 28.2,4.0 29.3,3.7 Z" fill="#6c6c6c"/>
    <g clip-path="url(#lungRL)"><circle cx="5.4" cy="28.2" r="0.75" fill="#8c8c8c"/><circle cx="12.8" cy="17.4" r="0.52" fill="#8c8c8c"/><circle cx="5.6" cy="21.2" r="0.43" fill="#8c8c8c"/><circle cx="7.0" cy="35.1" r="0.36" fill="#8c8c8c"/><circle cx="4.9" cy="18.8" r="0.36" fill="#8c8c8c"/><circle cx="6.9" cy="33.0" r="0.55" fill="#8c8c8c"/><circle cx="27.0" cy="32.3" r="0.67" fill="#8c8c8c"/><circle cx="13.8" cy="21.3" r="0.46" fill="#8c8c8c"/><circle cx="21.1" cy="25.8" r="0.46" fill="#8c8c8c"/><circle cx="15.3" cy="28.9" r="0.71" fill="#8c8c8c"/><circle cx="12.9" cy="15.7" r="0.41" fill="#8c8c8c"/><circle cx="17.8" cy="16.3" r="0.63" fill="#8c8c8c"/><circle cx="12.7" cy="23.7" r="0.63" fill="#8c8c8c"/><circle cx="8.9" cy="23.6" r="0.73" fill="#8c8c8c"/><circle cx="3.8" cy="9.9" r="0.38" fill="#8c8c8c"/><circle cx="12.4" cy="19.4" r="0.70" fill="#8c8c8c"/><circle cx="5.8" cy="24.3" r="0.57" fill="#8c8c8c"/><circle cx="15.2" cy="18.8" r="0.40" fill="#8c8c8c"/><circle cx="6.6" cy="20.9" r="0.39" fill="#8c8c8c"/><circle cx="12.0" cy="24.5" r="0.43" fill="#8c8c8c"/><circle cx="9.1" cy="29.1" r="0.65" fill="#8c8c8c"/><circle cx="9.2" cy="32.3" r="0.42" fill="#8c8c8c"/><circle cx="10.3" cy="23.4" r="0.45" fill="#8c8c8c"/><circle cx="20.7" cy="23.4" r="0.57" fill="#8c8c8c"/><circle cx="13.5" cy="31.5" r="0.72" fill="#8c8c8c"/><circle cx="19.7" cy="32.3" r="0.52" fill="#8c8c8c"/><circle cx="-0.4" cy="22.5" r="0.51" fill="#8c8c8c"/><circle cx="1.9" cy="21.4" r="0.74" fill="#8c8c8c"/><circle cx="4.8" cy="36.2" r="0.63" fill="#8c8c8c"/><circle cx="7.0" cy="15.1" r="0.49" fill="#8c8c8c"/><circle cx="14.0" cy="23.6" r="0.38" fill="#8c8c8c"/><circle cx="10.7" cy="15.1" r="0.42" fill="#8c8c8c"/><circle cx="20.9" cy="30.7" r="0.70" fill="#8c8c8c"/><circle cx="8.7" cy="15.6" r="0.45" fill="#8c8c8c"/><g stroke="#ececec" stroke-width="0.9" stroke-linecap="round" fill="none"><path d="M13.0,30.3 l-2.1,-0.3"/><path d="M13.3,36.2 l2.8,0.2"/><path d="M14.3,36.4 l-1.1,-0.7"/><path d="M17.4,26.0 l-0.2,0.0"/><path d="M15.3,30.5 l-3.0,-1.2"/><path d="M17.0,28.2 l-2.7,-2.4"/><path d="M13.1,28.7 l0.5,0.1"/><path d="M14.0,20.1 l1.3,1.9"/><path d="M11.6,28.3 l2.9,-1.8"/><path d="M13.2,20.3 l-2.7,1.7"/></g><circle cx="17.8" cy="23.5" r="0.69" fill="#e6e6e6"/><circle cx="14.7" cy="25.0" r="0.61" fill="#e6e6e6"/><circle cx="7.4" cy="26.8" r="0.72" fill="#e6e6e6"/><circle cx="16.1" cy="22.3" r="0.76" fill="#e6e6e6"/><circle cx="11.8" cy="21.4" r="0.49" fill="#e6e6e6"/><circle cx="15.8" cy="27.4" r="0.54" fill="#e6e6e6"/><circle cx="19.3" cy="31.7" r="0.62" fill="#e6e6e6"/><circle cx="10.6" cy="23.0" r="0.67" fill="#e6e6e6"/><circle cx="13.7" cy="27.0" r="0.72" fill="#e6e6e6"/><circle cx="14.0" cy="22.3" r="0.61" fill="#e6e6e6"/><circle cx="13.3" cy="25.8" r="0.69" fill="#e6e6e6"/><circle cx="14.0" cy="28.6" r="0.51" fill="#e6e6e6"/><circle cx="13.7" cy="24.3" r="0.70" fill="#e6e6e6"/><circle cx="18.0" cy="26.3" r="0.55" fill="#e6e6e6"/></g>
    <g clip-path="url(#lungRR)"><circle cx="27.0" cy="22.8" r="0.66" fill="#8c8c8c"/><circle cx="29.6" cy="12.3" r="0.38" fill="#8c8c8c"/><circle cx="38.8" cy="26.5" r="0.65" fill="#8c8c8c"/><circle cx="33.4" cy="32.0" r="0.35" fill="#8c8c8c"/><circle cx="40.4" cy="23.6" r="0.62" fill="#8c8c8c"/><circle cx="32.8" cy="8.4" r="0.47" fill="#8c8c8c"/><circle cx="29.3" cy="20.0" r="0.54" fill="#8c8c8c"/><circle cx="45.3" cy="33.9" r="0.43" fill="#8c8c8c"/><circle cx="49.9" cy="18.1" r="0.36" fill="#8c8c8c"/><circle cx="25.3" cy="25.2" r="0.74" fill="#8c8c8c"/><circle cx="31.5" cy="23.2" r="0.43" fill="#8c8c8c"/><circle cx="39.9" cy="18.9" r="0.58" fill="#8c8c8c"/><circle cx="40.6" cy="29.5" r="0.73" fill="#8c8c8c"/><circle cx="43.5" cy="33.3" r="0.55" fill="#8c8c8c"/><circle cx="43.1" cy="11.8" r="0.44" fill="#8c8c8c"/><circle cx="41.5" cy="14.8" r="0.36" fill="#8c8c8c"/><circle cx="43.0" cy="21.2" r="0.53" fill="#8c8c8c"/><circle cx="34.9" cy="25.7" r="0.49" fill="#8c8c8c"/><circle cx="31.4" cy="36.8" r="0.35" fill="#8c8c8c"/><circle cx="36.1" cy="3.8" r="0.40" fill="#8c8c8c"/><circle cx="44.5" cy="14.7" r="0.71" fill="#8c8c8c"/><circle cx="34.6" cy="29.4" r="0.51" fill="#8c8c8c"/><circle cx="44.0" cy="20.9" r="0.49" fill="#8c8c8c"/><circle cx="31.7" cy="24.2" r="0.37" fill="#8c8c8c"/><circle cx="45.1" cy="31.2" r="0.46" fill="#8c8c8c"/><circle cx="40.2" cy="18.3" r="0.46" fill="#8c8c8c"/><circle cx="32.1" cy="20.6" r="0.50" fill="#8c8c8c"/><circle cx="48.0" cy="15.9" r="0.67" fill="#8c8c8c"/><circle cx="27.0" cy="6.4" r="0.73" fill="#8c8c8c"/><circle cx="26.9" cy="16.6" r="0.37" fill="#8c8c8c"/><circle cx="35.3" cy="11.2" r="0.65" fill="#8c8c8c"/><circle cx="33.0" cy="15.2" r="0.37" fill="#8c8c8c"/><circle cx="38.8" cy="18.9" r="0.54" fill="#8c8c8c"/><circle cx="33.2" cy="27.3" r="0.65" fill="#8c8c8c"/><g stroke="#ececec" stroke-width="0.9" stroke-linecap="round" fill="none"><path d="M34.9,24.6 l0.9,-1.0"/><path d="M30.7,23.8 l-2.0,-1.7"/><path d="M34.4,32.3 l-0.0,-1.4"/><path d="M40.0,18.5 l-0.3,-1.8"/><path d="M33.4,26.4 l-0.9,-2.0"/><path d="M33.1,27.7 l0.4,1.9"/><path d="M33.0,21.4 l-0.5,0.1"/><path d="M31.4,27.2 l-2.6,-1.1"/><path d="M34.3,24.6 l0.0,0.6"/></g><circle cx="34.1" cy="25.1" r="0.51" fill="#e6e6e6"/><circle cx="33.0" cy="30.5" r="0.58" fill="#e6e6e6"/><circle cx="37.7" cy="25.1" r="0.75" fill="#e6e6e6"/><circle cx="33.6" cy="27.1" r="0.68" fill="#e6e6e6"/><circle cx="35.2" cy="24.6" r="0.63" fill="#e6e6e6"/><circle cx="35.5" cy="27.0" r="0.77" fill="#e6e6e6"/><circle cx="35.2" cy="20.9" r="0.79" fill="#e6e6e6"/><circle cx="33.0" cy="28.7" r="0.46" fill="#e6e6e6"/><circle cx="29.3" cy="26.3" r="0.78" fill="#e6e6e6"/><circle cx="32.4" cy="22.0" r="0.71" fill="#e6e6e6"/><circle cx="29.9" cy="28.2" r="0.42" fill="#e6e6e6"/><circle cx="33.4" cy="24.5" r="0.77" fill="#e6e6e6"/></g>
  </g>
</g>
</svg>
</body></html>
